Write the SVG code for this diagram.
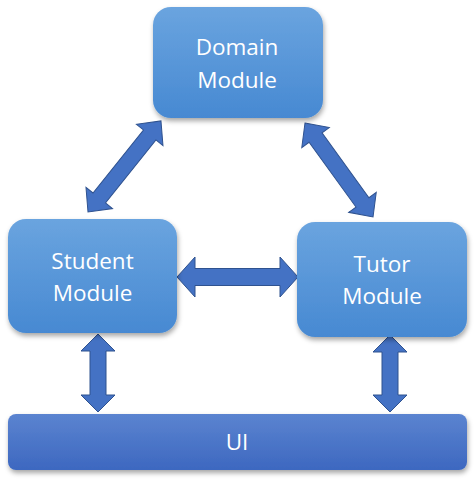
<svg xmlns="http://www.w3.org/2000/svg" width="474" height="481" viewBox="0 0 474 481">
  <defs>
    <linearGradient id="boxGrad" x1="0" y1="0" x2="0" y2="1">
      <stop offset="0" stop-color="#6aa4df"/>
      <stop offset="1" stop-color="#4789d2"/>
    </linearGradient>
    <linearGradient id="uiGrad" x1="0" y1="0" x2="0" y2="1">
      <stop offset="0" stop-color="#5b84d0"/>
      <stop offset="1" stop-color="#3d68c0"/>
    </linearGradient>
    <filter id="shadow" x="-10%" y="-10%" width="125%" height="130%">
      <feDropShadow dx="1" dy="3" stdDeviation="2.5" flood-color="#000" flood-opacity="0.35"/>
    </filter>
    <style>
      .box { fill: url(#boxGrad); filter: url(#shadow); }
      .ui { fill: url(#uiGrad); filter: url(#shadow); }
      .lbl { fill: #ffffff; font-family: "Open Sans", "Noto Sans", "Liberation Sans", sans-serif; font-size: 22.5px; text-anchor: middle; }
      .arrow { fill: #4472c4; stroke: #2f528f; stroke-width: 1; stroke-linejoin: miter; }
    </style>
  </defs>
  <rect width="474" height="481" fill="#ffffff"/>

  <g id="connectors">
    <!-- Student <-> Domain -->
    <polygon class="arrow" transform="translate(88,212) rotate(-51.3)" points="0,0 18,-17 18,-8 98.7,-8 98.7,-17 116.7,0 98.7,17 98.7,8 18,8 18,17"/>
    <!-- Domain <-> Tutor -->
    <polygon class="arrow" transform="translate(305,123) rotate(54.1)" points="0,0 18,-17 18,-8 98,-8 98,-17 116,0 98,17 98,8 18,8 18,17"/>
    <!-- Student <-> Tutor -->
    <polygon class="arrow" transform="translate(177,277)" points="0,0 18,-20 18,-8.5 103,-8.5 103,-20 121,0 103,20 103,8.5 18,8.5 18,20"/>
    <!-- Student <-> UI -->
    <polygon class="arrow" transform="translate(98,334) rotate(90)" points="0,0 17,-17 17,-8 61,-8 61,-17 78,0 61,17 61,8 17,8 17,17"/>
    <!-- Tutor <-> UI -->
    <polygon class="arrow" transform="translate(390,335) rotate(90)" points="0,0 17,-17 17,-8 60,-8 60,-17 77,0 60,17 60,8 17,8 17,17"/>
  </g>

  <g id="domain">
    <rect class="box" x="153" y="7" width="170" height="111" rx="18"/>
    <text class="lbl" x="237" y="55">Domain</text>
    <text class="lbl" x="237" y="88">Module</text>
  </g>

  <g id="student">
    <rect class="box" x="8" y="219" width="169" height="114" rx="18"/>
    <text class="lbl" x="92.5" y="269">Student</text>
    <text class="lbl" x="92.5" y="301">Module</text>
  </g>

  <g id="tutor">
    <rect class="box" x="297" y="222" width="170" height="115" rx="18"/>
    <text class="lbl" x="382" y="272">Tutor</text>
    <text class="lbl" x="382" y="304">Module</text>
  </g>

  <g id="ui">
    <rect class="ui" x="8" y="414" width="459" height="56" rx="8"/>
    <text class="lbl" x="237" y="450">UI</text>
  </g>
</svg>
